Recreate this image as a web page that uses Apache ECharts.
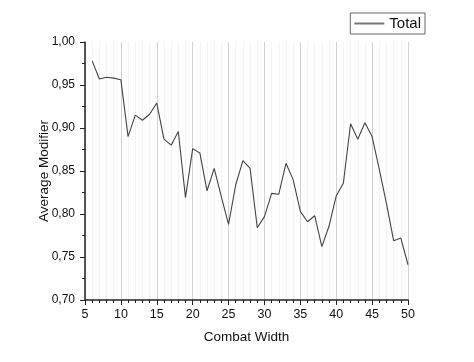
<!DOCTYPE html>
<html><head><meta charset="utf-8">
<script src="https://cdn.jsdelivr.net/npm/echarts@6/dist/echarts.min.js"></script>
<style>html,body{margin:0;padding:0;background:#fff}#c{width:474px;height:362px}</style>
</head><body><div id="c"></div>
<script>
const combatWidth = [6,7,8,9,10,11,12,13,14,15,16,17,18,19,20,21,22,23,24,25,26,27,28,29,30,31,32,33,34,35,36,37,38,39,40,41,42,43,44,45,46,47,48,49,50];
const totalValues = [0.978,0.957,0.959,0.958,0.956,0.890,0.915,0.909,0.916,0.929,0.887,0.880,0.896,0.819,0.876,0.871,0.827,0.853,0.820,0.788,0.834,0.862,0.853,0.784,0.797,0.824,0.823,0.859,0.840,0.803,0.791,0.798,0.762,0.786,0.821,0.836,0.905,0.887,0.906,0.890,0.852,0.812,0.769,0.772,0.741];
const seriesName = 'Total';
const xTitle = 'Combat Width';
const yTitle = 'Average Modifier';

const chart = echarts.init(document.getElementById('c'));
const font = 'Liberation Sans, Arial, sans-serif';
chart.setOption({
  animation:false,
  backgroundColor:'#fff',
  grid:{left:85,right:66,top:42,bottom:62},
  legend:{
    data:[seriesName], right:49, top:13, orient:'horizontal',
    borderColor:'#666', borderWidth:1, borderRadius:0, padding:[3,4,3,4],
    itemWidth:30, itemHeight:2, itemGap:4,
    icon:'rect',
    textStyle:{fontFamily:font,fontSize:15,color:'#111'}
  },
  xAxis:{
    type:'value', min:5, max:50, interval:5,
    name:xTitle, nameLocation:'middle', nameGap:30, nameMoveOverlap:false,
    nameTextStyle:{fontFamily:font,fontSize:13.5,color:'#111'},
    axisLine:{show:true,onZero:false,lineStyle:{color:'#222',width:1.5}},
    axisTick:{show:true,inside:false,length:5,lineStyle:{color:'#222'}},
    minorTick:{show:true,splitNumber:5,length:3,lineStyle:{color:'#222'}},
    axisLabel:{fontFamily:font,fontSize:12.5,color:'#111',margin:8},
    splitLine:{show:true,lineStyle:{color:'#d2d2d2',width:1}},
    minorSplitLine:{show:true,lineStyle:{color:'#f3f3f3',width:1}}
  },
  yAxis:{
    type:'value', min:0.70, max:1.00, interval:0.05,
    name:yTitle, nameLocation:'middle', nameGap:34, nameRotate:90, nameMoveOverlap:false,
    nameTextStyle:{fontFamily:font,fontSize:13.5,color:'#111'},
    axisLine:{show:true,onZero:false,lineStyle:{color:'#222',width:1.5}},
    axisTick:{show:true,inside:false,length:5,lineStyle:{color:'#222'}},
    minorTick:{show:true,splitNumber:2,length:3,lineStyle:{color:'#222'}},
    axisLabel:{fontFamily:font,fontSize:12,color:'#111',margin:10,
      formatter:v=>v.toFixed(2).replace('.',',')},
    splitLine:{show:false}
  },
  series:[{
    name:seriesName, type:'line', showSymbol:false, symbol:'none',
    data:combatWidth.map((x,i)=>[x,totalValues[i]]),
    lineStyle:{color:'#444',width:1.1},
    itemStyle:{color:'#777'}
  }]
});
</script></body></html>
